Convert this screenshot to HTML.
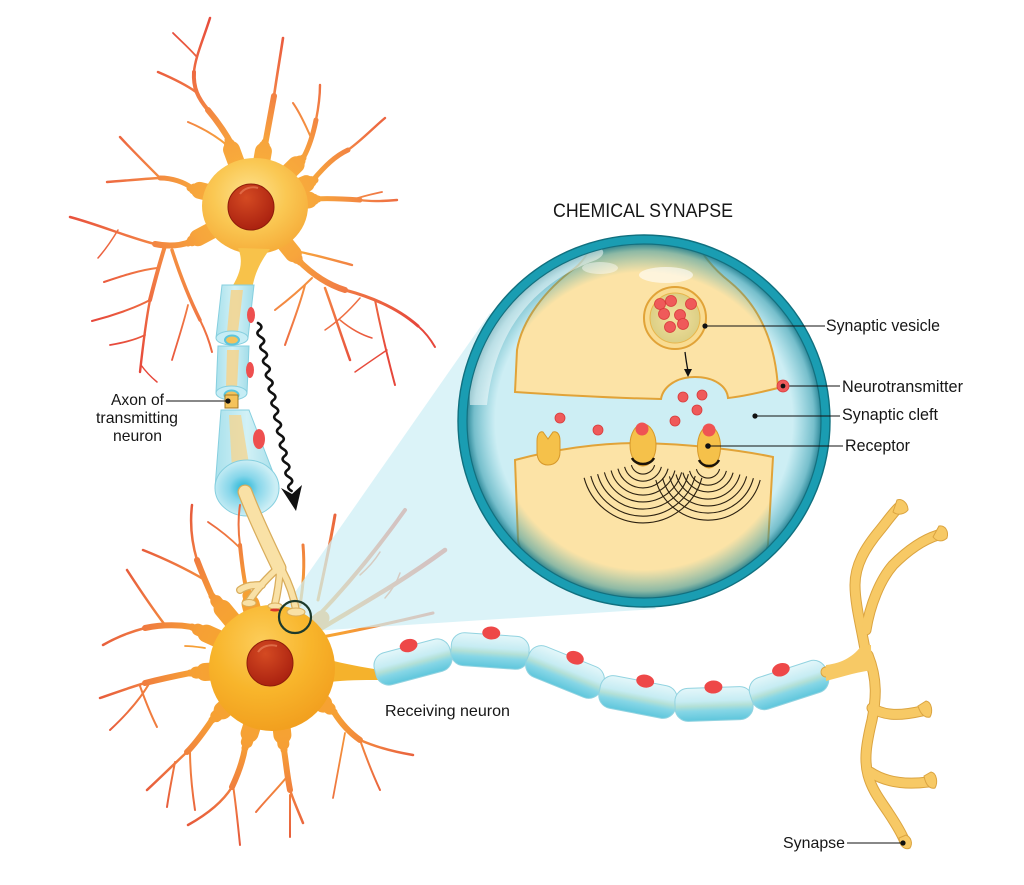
<!DOCTYPE html>
<html><head><meta charset="utf-8">
<style>
html,body{margin:0;padding:0;background:#fff;}
svg{display:block;}
text{font-family:"Liberation Sans",Arial,sans-serif;fill:#161616;}
</style></head><body>
<svg width="1024" height="885" viewBox="0 0 1024 885" xmlns="http://www.w3.org/2000/svg">
<defs>
 <radialGradient id="gTop" gradientUnits="userSpaceOnUse" cx="255" cy="206" r="200">
   <stop offset="0" stop-color="#f9bb3c"/>
   <stop offset="0.32" stop-color="#f7a53c"/>
   <stop offset="0.6" stop-color="#f17c44"/>
   <stop offset="1" stop-color="#e6473b"/>
 </radialGradient>
 <radialGradient id="gBot" gradientUnits="userSpaceOnUse" cx="272" cy="667" r="190">
   <stop offset="0" stop-color="#f7ad28"/>
   <stop offset="0.42" stop-color="#f6a035"/>
   <stop offset="0.72" stop-color="#ef7840"/>
   <stop offset="1" stop-color="#e4523a"/>
 </radialGradient>
 <radialGradient id="bodyTop" cx="0.45" cy="0.38" r="0.62">
   <stop offset="0" stop-color="#fde28e"/>
   <stop offset="0.55" stop-color="#fac853"/>
   <stop offset="1" stop-color="#f6ae3b"/>
 </radialGradient>
 <radialGradient id="bodyBot" cx="0.42" cy="0.3" r="0.7">
   <stop offset="0" stop-color="#fccd5a"/>
   <stop offset="0.55" stop-color="#f8b52b"/>
   <stop offset="1" stop-color="#f2a01f"/>
 </radialGradient>
 <radialGradient id="nuc" cx="0.4" cy="0.3" r="0.75">
   <stop offset="0" stop-color="#d44a22"/>
   <stop offset="1" stop-color="#a81f0f"/>
 </radialGradient>
 <clipPath id="inner"><circle cx="644" cy="421" r="177"/></clipPath>
 <radialGradient id="innerShade" gradientUnits="userSpaceOnUse" cx="644" cy="421" r="177">
   <stop offset="0.84" stop-color="#2a9fb3" stop-opacity="0"/>
   <stop offset="0.96" stop-color="#1f8fa3" stop-opacity="0.5"/>
   <stop offset="1" stop-color="#15788a" stop-opacity="0.85"/>
 </radialGradient>
 <linearGradient id="myel" x1="0" y1="0" x2="0" y2="1">
   <stop offset="0" stop-color="#e4f7fa"/>
   <stop offset="0.4" stop-color="#c6ecf3"/>
   <stop offset="0.55" stop-color="#b3e0d6"/>
   <stop offset="0.7" stop-color="#86d6e6"/>
   <stop offset="1" stop-color="#5ec6dc"/>
 </linearGradient>
 <linearGradient id="myelV" x1="0" y1="0" x2="1" y2="0">
   <stop offset="0" stop-color="#a9e1ec"/>
   <stop offset="0.5" stop-color="#d2f1f6"/>
   <stop offset="1" stop-color="#a3dde9"/>
 </linearGradient>
 <radialGradient id="glow" cx="0.45" cy="0.5" r="0.5">
   <stop offset="0" stop-color="#1db4d6"/>
   <stop offset="0.45" stop-color="#86d6ea"/>
   <stop offset="1" stop-color="#cbeef5"/>
 </radialGradient>
 <radialGradient id="ves" cx="0.5" cy="0.5" r="0.5">
   <stop offset="0" stop-color="#f3e2a0"/>
   <stop offset="1" stop-color="#dccf85"/>
 </radialGradient>
</defs>

<!-- ============ TOP NEURON DENDRITES ============ -->
<g fill="none" stroke="url(#gTop)" stroke-linecap="round" stroke-linejoin="round">
  <!-- tapered roots -->
  <g stroke-width="17" pathLength="100">
    <path pathLength="100" stroke-dasharray="84 300" d="M250,200 L228,140"/>
    <path pathLength="100" stroke-dasharray="84 300" d="M255,200 L265,142"/>
    <path pathLength="100" stroke-dasharray="84 300" d="M260,200 L303,158"/>
    <path pathLength="100" stroke-dasharray="84 300" d="M260,203 L315,180"/>
    <path pathLength="100" stroke-dasharray="84 300" d="M260,205 L318,199"/>
    <path pathLength="100" stroke-dasharray="84 300" d="M250,203 L190,188"/>
    <path pathLength="100" stroke-dasharray="84 300" d="M250,210 L188,243"/>
    <path pathLength="100" stroke-dasharray="84 300" d="M258,210 L300,262"/>
  </g>
  <g stroke-width="11">
    <path pathLength="100" stroke-dasharray="93 300" d="M250,200 L228,140"/>
    <path pathLength="100" stroke-dasharray="93 300" d="M255,200 L265,142"/>
    <path pathLength="100" stroke-dasharray="93 300" d="M260,200 L303,158"/>
    <path pathLength="100" stroke-dasharray="93 300" d="M260,203 L315,180"/>
    <path pathLength="100" stroke-dasharray="93 300" d="M260,205 L318,199"/>
    <path pathLength="100" stroke-dasharray="93 300" d="M250,203 L190,188"/>
    <path pathLength="100" stroke-dasharray="93 300" d="M250,210 L188,243"/>
    <path pathLength="100" stroke-dasharray="93 300" d="M258,210 L300,262"/>
  </g>
  <g stroke-width="7">
    <path d="M250,200 L228,140"/>
    <path d="M255,200 L265,142"/>
    <path d="M260,200 L303,158"/>
    <path d="M260,203 L315,180"/>
    <path d="M260,205 L318,199"/>
    <path d="M250,203 L190,188"/>
    <path d="M250,210 L188,243"/>
    <path d="M258,210 L300,262"/>
  </g>
  <!-- upper left -->
  <path stroke-width="6" d="M232,145 C225,132 218,122 208,110"/>
  <path stroke-width="4" d="M208,110 C198,98 193,88 194,72"/>
  <path stroke-width="2.5" d="M194,72 C195,58 203,40 210,18"/>
  <path stroke-width="2.5" d="M196,92 C185,84 172,78 158,72"/>
  <path stroke-width="1.8" d="M196,56 C188,47 180,40 173,33"/>
  <path stroke-width="2" d="M228,146 C215,135 200,127 188,122"/>
  <!-- upper middle -->
  <path stroke-width="6" d="M265,145 C268,128 271,112 274,96"/>
  <path stroke-width="2.6" d="M274,96 C277,75 280,58 283,38"/>
  <!-- upper right -->
  <path stroke-width="5" d="M302,160 C308,150 313,135 316,120"/>
  <path stroke-width="2.4" d="M316,120 C319,105 320,95 320,85"/>
  <path stroke-width="2" d="M312,140 C306,126 300,113 293,103"/>
  <!-- right -->
  <path stroke-width="5" d="M313,180 C325,166 335,156 348,150"/>
  <path stroke-width="2.4" d="M348,150 C362,140 373,128 385,118"/>
  <!-- right 2 -->
  <path stroke-width="5" d="M316,199 C330,198 345,199 360,200"/>
  <path stroke-width="2.4" d="M360,200 C373,202 386,201 397,200"/>
  <path stroke-width="1.8" d="M352,200 C363,196 373,194 382,192"/>
  <!-- left -->
  <path stroke-width="5" d="M192,188 C184,182 172,178 160,178"/>
  <path stroke-width="2.4" d="M160,178 C140,179 122,181 107,182"/>
  <path stroke-width="2.4" d="M160,178 C146,164 132,150 120,137"/>
  <!-- lower left -->
  <path stroke-width="6" d="M190,242 C182,245 170,247 155,244"/>
  <path stroke-width="2.5" d="M155,244 C130,238 100,225 70,217"/>
  <path stroke-width="4" d="M165,246 C160,262 155,280 150,300"/>
  <path stroke-width="2.4" d="M150,300 C146,320 143,345 140,372"/>
  <path stroke-width="2" d="M157,268 C140,270 122,276 104,282"/>
  <path stroke-width="2" d="M150,300 C135,308 112,316 92,321"/>
  <path stroke-width="1.8" d="M145,335 C135,340 122,343 110,345"/>
  <path stroke-width="3.5" d="M172,250 C180,275 190,300 200,320"/>
  <path stroke-width="2" d="M200,320 C205,330 209,340 212,352"/>
  <path stroke-width="1.8" d="M188,305 C184,322 178,340 172,360"/>
  <path stroke-width="1.5" d="M141,365 C146,372 151,377 157,382"/>
  <path stroke-width="1.5" d="M118,230 C112,240 105,250 98,258"/>
  <!-- lower right -->
  <path stroke-width="6" d="M298,260 C310,272 325,284 345,290"/>
  <path stroke-width="3" d="M345,290 C375,298 400,310 418,326"/>
  <path stroke-width="2" d="M418,326 C426,333 431,340 435,347"/>
  <path stroke-width="2.4" d="M300,252 C316,255 333,260 352,265"/>
  <path stroke-width="2" d="M312,278 C300,290 288,300 275,310"/>
  <path stroke-width="2" d="M305,285 C300,305 292,325 285,345"/>
  <path stroke-width="2.5" d="M325,288 C333,310 341,335 350,360"/>
  <path stroke-width="2" d="M375,300 C380,325 387,355 395,385"/>
  <path stroke-width="1.5" d="M360,298 C348,312 337,322 325,330"/>
  <path stroke-width="1.5" d="M387,350 C375,358 365,365 355,372"/>
  <path stroke-width="1.5" d="M340,320 C352,330 362,335 372,338"/>
</g>
<!-- top body -->
<ellipse cx="255" cy="206" rx="53" ry="48" fill="url(#bodyTop)"/>
<circle cx="251" cy="207" r="23" fill="url(#nuc)" stroke="#8e1c0a" stroke-width="1"/>
<path d="M240,194 C244,188 252,186 258,188" fill="none" stroke="#e87a55" stroke-width="2" opacity="0.7"/>
<!-- hillock -->
<path d="M238,248 C244,262 240,275 230,290 L252,290 C254,275 260,262 270,249 Z" fill="#f8c24a"/>

<!-- ============ TOP AXON MYELIN ============ -->
<g stroke="#86cfdf" stroke-width="1">
  <path d="M222,285 L254,285 L248,338 L216,338 Z" fill="url(#myelV)"/>
  <path d="M231,290 L243,290 L238,332 L227,332 Z" fill="#f5d48c" stroke="none" opacity="0.85"/>
  <ellipse cx="232" cy="338" rx="16" ry="7" fill="#c6edf5"/>
  <ellipse cx="232" cy="340" rx="7" ry="4.5" fill="#f2c35c" stroke="#5cc6dc" stroke-width="2"/>
  <path d="M218,346 L249,346 L247,393 L216,393 Z" fill="url(#myelV)"/>
  <path d="M227,350 L239,350 L237,388 L226,388 Z" fill="#f5d48c" stroke="none" opacity="0.85"/>
  <ellipse cx="231.5" cy="393" rx="15.5" ry="7" fill="#c6edf5"/>
  <ellipse cx="231.5" cy="395" rx="7" ry="4.5" fill="#f2c35c" stroke="#5cc6dc" stroke-width="2"/>
  <rect x="225" y="395" width="13" height="13" fill="#f5c35a" stroke="#a47a24"/>
  <path d="M221,410 L249,410 L279,488 L215,488 Z" fill="url(#myelV)"/>
  <path d="M229,415 L241,415 L250,470 L232,470 Z" fill="#f5d48c" stroke="none" opacity="0.75"/>
  <ellipse cx="247" cy="488" rx="32" ry="28" fill="url(#glow)"/>
</g>
<ellipse cx="251" cy="315" rx="4" ry="8" fill="#ee4f4f"/>
<ellipse cx="250" cy="370" rx="4" ry="8" fill="#ee4f4f"/>
<ellipse cx="259" cy="439" rx="6" ry="10" fill="#ee4f4f"/>

<!-- ============ BOTTOM NEURON DENDRITES ============ -->
<g fill="none" stroke="url(#gBot)" stroke-linecap="round" stroke-linejoin="round">
  <g stroke-width="18">
    <path pathLength="100" stroke-dasharray="80 300" d="M265,660 L212,596"/>
    <path pathLength="100" stroke-dasharray="80 300" d="M265,660 L192,627"/>
    <path pathLength="100" stroke-dasharray="80 300" d="M265,668 L190,673"/>
    <path pathLength="100" stroke-dasharray="80 300" d="M265,672 L212,720"/>
    <path pathLength="100" stroke-dasharray="80 300" d="M268,675 L245,748"/>
    <path pathLength="100" stroke-dasharray="80 300" d="M276,675 L284,750"/>
    <path pathLength="100" stroke-dasharray="80 300" d="M280,670 L334,712"/>
    <path pathLength="100" stroke-dasharray="80 300" d="M265,660 L247,590"/>
  </g>
  <g stroke-width="12">
    <path pathLength="100" stroke-dasharray="92 300" d="M265,660 L212,596"/>
    <path pathLength="100" stroke-dasharray="92 300" d="M265,660 L192,627"/>
    <path pathLength="100" stroke-dasharray="92 300" d="M265,668 L190,673"/>
    <path pathLength="100" stroke-dasharray="92 300" d="M265,672 L212,720"/>
    <path pathLength="100" stroke-dasharray="92 300" d="M268,675 L245,748"/>
    <path pathLength="100" stroke-dasharray="92 300" d="M276,675 L284,750"/>
    <path pathLength="100" stroke-dasharray="92 300" d="M280,670 L334,712"/>
    <path pathLength="100" stroke-dasharray="92 300" d="M265,660 L247,590"/>
  </g>
  <g stroke-width="7">
    <path d="M265,660 L212,596"/>
    <path d="M265,660 L192,627"/>
    <path d="M265,668 L190,673"/>
    <path d="M265,672 L212,720"/>
    <path d="M268,675 L245,748"/>
    <path d="M276,675 L284,750"/>
    <path d="M280,670 L334,712"/>
    <path d="M265,660 L247,590"/>
  </g>
  <path stroke-width="6" d="M212,596 C207,585 202,573 197,560"/>
  <path stroke-width="2.5" d="M197,560 C191,540 190,522 192,505"/>
  <path stroke-width="2.5" d="M205,580 C188,570 168,560 143,550"/>
  <path stroke-width="6" d="M192,627 C180,625 165,624 145,628"/>
  <path stroke-width="2.5" d="M145,628 C130,632 115,638 103,645"/>
  <path stroke-width="2.5" d="M165,625 C152,608 140,590 127,570"/>
  <path stroke-width="1.8" d="M205,648 C198,647 192,646 185,646"/>
  <path stroke-width="6" d="M190,673 C180,675 165,678 145,683"/>
  <path stroke-width="2.5" d="M145,683 C128,688 112,694 100,698"/>
  <path stroke-width="2" d="M150,682 C140,700 125,716 110,730"/>
  <path stroke-width="2" d="M140,686 C145,700 150,713 157,727"/>
  <path stroke-width="6" d="M212,720 C205,730 197,742 187,752"/>
  <path stroke-width="2.5" d="M187,752 C173,765 160,778 147,790"/>
  <path stroke-width="2" d="M190,750 C190,770 192,790 195,810"/>
  <path stroke-width="2" d="M175,762 C172,778 169,793 167,807"/>
  <path stroke-width="6" d="M245,748 C243,760 239,772 232,787"/>
  <path stroke-width="2.5" d="M232,787 C222,803 206,815 188,825"/>
  <path stroke-width="2" d="M233,785 C236,805 238,825 240,845"/>
  <path stroke-width="6" d="M284,750 C286,762 287,775 290,790"/>
  <path stroke-width="2.5" d="M290,790 C294,802 299,813 303,823"/>
  <path stroke-width="2" d="M286,778 C276,790 266,800 256,812"/>
  <path stroke-width="2" d="M290,795 C290,810 290,825 290,837"/>
  <path stroke-width="6" d="M334,712 C342,725 350,733 360,740"/>
  <path stroke-width="2.5" d="M360,740 C378,748 395,752 413,755"/>
  <path stroke-width="2" d="M360,740 C366,757 373,775 380,790"/>
  <path stroke-width="1.8" d="M345,733 C341,755 337,777 333,798"/>
  <path stroke-width="4" d="M247,592 C244,580 242,565 240,545"/>
  <path stroke-width="2" d="M240,545 C238,530 238,518 240,505"/>
  <path stroke-width="1.8" d="M240,548 C230,538 220,530 208,522"/>
  <!-- up-right (faded by cone) -->
  <g stroke-width="15"><path d="M270,660 L322,618"/></g>
  <path stroke-width="3" d="M300,605 C303,588 305,568 303,545"/>
  <path stroke-width="3" d="M318,600 C324,572 330,545 335,515"/>
  <path stroke-width="4" d="M316,618 C345,588 375,552 405,510"/>
  <path stroke-width="4.5" d="M322,628 C360,605 400,583 445,550"/>
  <path stroke-width="3" d="M322,637 C360,630 395,622 433,613"/>
  <path stroke-width="1.5" d="M385,598 C392,590 397,582 400,573"/>
  <path stroke-width="1.5" d="M360,575 C368,568 375,560 380,552"/>
</g>

<!-- ============ CONE ============ -->
<polygon points="284,608 490,313 656,609 297,632" fill="#cdeef5" opacity="0.72"/>

<!-- bottom body -->
<path d="M330,660 C345,664 362,667 380,670 L380,680 C362,680 345,680 330,682 Z" fill="#f5b22c"/>
<circle cx="272" cy="668" r="63" fill="url(#bodyBot)"/>
<circle cx="270" cy="663" r="23" fill="url(#nuc)" stroke="#8e1c0a" stroke-width="1"/>
<path d="M258,652 C262,646 270,644 277,646" fill="none" stroke="#e8805a" stroke-width="2" opacity="0.7"/>

<!-- top axon (cream) into bottom neuron -->
<g fill="none" stroke-linecap="round" stroke-linejoin="round">
  <g stroke="#d9ad5c" stroke-width="15">
    <path d="M245,492 C255,518 268,545 279,568"/>
  </g>
  <g stroke="#d9ad5c" stroke-width="8">
    <path d="M278,568 C265,580 256,590 249,601"/>
    <path d="M280,570 C279,585 277,595 275,604"/>
    <path d="M282,570 C290,585 294,598 296,610"/>
    <path d="M262,585 C255,585 247,585 240,590"/>
  </g>
  <g stroke="#f9e1a6" stroke-width="12.5">
    <path d="M245,492 C255,518 268,545 279,568"/>
  </g>
  <g stroke="#f9e1a6" stroke-width="5.5">
    <path d="M278,568 C265,580 256,590 249,601"/>
    <path d="M280,570 C279,585 277,595 275,604"/>
    <path d="M282,570 C290,585 294,598 296,610"/>
    <path d="M262,585 C255,585 247,585 240,590"/>
  </g>
</g>
<ellipse cx="249" cy="603" rx="7" ry="3.5" fill="#f9e1a6" stroke="#d9ad5c"/>
<ellipse cx="275" cy="606" rx="7" ry="3" fill="#f9e1a6" stroke="#d9ad5c"/>
<ellipse cx="296" cy="612" rx="9" ry="4" fill="#f9e1a6" stroke="#d9ad5c"/>
<ellipse cx="275" cy="610" rx="5" ry="1.5" fill="#d9352a"/>
<circle cx="295" cy="617" r="16" fill="none" stroke="#1d3a2c" stroke-width="2.2"/>

<!-- ============ BOTTOM MYELIN ============ -->
<g>
  <g transform="translate(413,662) rotate(-15)">
    <rect x="-39" y="-16.5" width="78" height="33" rx="13" fill="url(#myel)" stroke="#92d3e0"/>
    <ellipse cx="0" cy="-17" rx="9" ry="6.5" fill="#ee4848"/>
  </g>
  <g transform="translate(490,651) rotate(4)">
    <rect x="-39" y="-16.5" width="78" height="33" rx="13" fill="url(#myel)" stroke="#92d3e0"/>
    <ellipse cx="0" cy="-18" rx="9" ry="6.5" fill="#ee4848"/>
  </g>
  <g transform="translate(565,672) rotate(22)">
    <rect x="-40" y="-16.5" width="80" height="33" rx="13" fill="url(#myel)" stroke="#92d3e0"/>
    <ellipse cx="4" cy="-17" rx="9" ry="6.5" fill="#ee4848"/>
  </g>
  <g transform="translate(638,697) rotate(11)">
    <rect x="-39" y="-16.5" width="78" height="33" rx="13" fill="url(#myel)" stroke="#92d3e0"/>
    <ellipse cx="4" cy="-17" rx="9" ry="6.5" fill="#ee4848"/>
  </g>
  <g transform="translate(714,704) rotate(-2)">
    <rect x="-39" y="-16.5" width="78" height="33" rx="13" fill="url(#myel)" stroke="#92d3e0"/>
    <ellipse cx="0" cy="-17" rx="9" ry="6.5" fill="#ee4848"/>
  </g>
  <g transform="translate(789,685) rotate(-18)">
    <rect x="-40" y="-16.5" width="80" height="33" rx="13" fill="url(#myel)" stroke="#92d3e0"/>
    <ellipse cx="-3" cy="-17" rx="9" ry="6.5" fill="#ee4848"/>
  </g>
</g>

<!-- ============ AXON TERMINAL ============ -->
<g fill="none" stroke-linecap="round" stroke-linejoin="round">
  <g stroke="#dba440" stroke-width="11">
    <path d="M826,672 C842,668 855,664 866,656"/>
    <path d="M866,655 C862,630 855,605 855,585 C855,565 865,548 880,530 C888,520 893,513 898,508"/>
    <path d="M866,630 C870,605 880,580 893,565 C908,550 922,540 938,535"/>
    <path d="M868,655 C878,680 876,700 872,720 C866,745 864,760 868,775 C872,790 880,800 888,812 C896,824 902,834 905,842"/>
    <path d="M872,708 C885,716 900,716 922,711"/>
    <path d="M870,772 C885,782 905,785 928,782"/>
  </g>
  <g stroke="#f7c965" stroke-width="9">
    <path d="M826,672 C842,668 855,664 866,656"/>
    <path d="M866,655 C862,630 855,605 855,585 C855,565 865,548 880,530 C888,520 893,513 898,508"/>
    <path d="M866,630 C870,605 880,580 893,565 C908,550 922,540 938,535"/>
    <path d="M868,655 C878,680 876,700 872,720 C866,745 864,760 868,775 C872,790 880,800 888,812 C896,824 902,834 905,842"/>
    <path d="M872,708 C885,716 900,716 922,711"/>
    <path d="M870,772 C885,782 905,785 928,782"/>
  </g>
</g>
<path d="M826,665 C843,663 854,656 862,645 L871,645 C871,655 872,664 875,670 C860,671 845,676 826,681 Z" fill="#f7c965"/>
<g fill="#f7c965" stroke="#dba440" stroke-width="1">
  <path d="M893,512 L897,500 C902,498 908,503 908,510 C905,514 898,516 893,512 Z"/>
  <path d="M933,537 L939,526 C945,525 949,531 947,538 C943,542 937,542 933,537 Z"/>
  <path d="M918,706 L926,701 C932,702 933,712 930,717 C926,718 921,716 918,706 Z"/>
  <path d="M924,776 L931,772 C937,773 938,783 935,788 C931,789 926,787 924,776 Z"/>
  <path d="M899,838 L906,835 C911,837 913,843 910,848 C906,850 900,848 899,838 Z"/>
</g>

<!-- ============ BIG CIRCLE ============ -->
<circle cx="644" cy="421" r="180" fill="#cdeef4"/>
<g clip-path="url(#inner)">
  <path d="M515,392 L517,350 C522,320 545,290 575,268 C585,260 590,250 593,238 L695,238 C700,252 712,268 730,282 C758,305 775,340 778,388 C762,392 745,396 728,398 C727,386 714,377 695,377 C676,377 663,387 661,399 C610,398 560,395 515,392 Z" fill="#fce3a6" stroke="#e1a338" stroke-width="2"/>
  <path d="M515,460 C560,448 600,443 640,443 C690,444 740,450 773,457 L768,545 C762,565 745,575 725,583 C710,590 700,598 695,612 L593,612 C588,598 575,588 560,580 C535,568 520,555 518,540 Z" fill="#fce3a6" stroke="#e1a338" stroke-width="2"/>
  <!-- vesicle -->
  <circle cx="675" cy="318" r="31" fill="#f9dc92" stroke="#e1a338" stroke-width="2"/>
  <circle cx="675" cy="318" r="25" fill="url(#ves)" stroke="#e8b54a" stroke-width="1"/>
  <g fill="#ef5a5a" stroke="#d83b3b" stroke-width="0.8">
    <circle cx="660" cy="304" r="5.5"/>
    <circle cx="671" cy="301" r="5.5"/>
    <circle cx="691" cy="304" r="5.5"/>
    <circle cx="664" cy="314" r="5.5"/>
    <circle cx="680" cy="315" r="5.5"/>
    <circle cx="670" cy="327" r="5.5"/>
    <circle cx="683" cy="324" r="5.5"/>
  </g>
  <!-- small arrow -->
  <path d="M685,352 C686,360 687,366 688,371" fill="none" stroke="#111" stroke-width="1.3"/>
  <polygon points="684,369 692,369 688,377" fill="#111"/>
  <!-- neurotransmitters -->
  <g fill="#ef5a5a" stroke="#d83b3b" stroke-width="0.8">
    <circle cx="683" cy="397" r="5"/>
    <circle cx="702" cy="395" r="5"/>
    <circle cx="697" cy="410" r="5"/>
    <circle cx="560" cy="418" r="5"/>
    <circle cx="598" cy="430" r="5"/>
    <circle cx="675" cy="421" r="5"/>
  </g>
  <!-- arcs -->
  <g fill="none" stroke="#2b2010" stroke-width="1.1">
    <path d="M631.4,465.1 A12,12 0 0 0 654.6,465.1"/>
    <path d="M624.6,466.9 A19,19 0 0 0 661.4,466.9"/>
    <path d="M617.9,468.7 A26,26 0 0 0 668.1,468.7"/>
    <path d="M611.1,470.5 A33,33 0 0 0 674.9,470.5"/>
    <path d="M604.4,472.4 A40,40 0 0 0 681.6,472.4"/>
    <path d="M597.6,474.2 A47,47 0 0 0 688.4,474.2"/>
    <path d="M590.8,476.0 A54,54 0 0 0 695.2,476.0"/>
    <path d="M584.1,477.8 A61,61 0 0 0 701.9,477.8"/>
    <path d="M696.4,469.1 A12,12 0 0 0 719.6,469.1"/>
    <path d="M689.6,470.9 A19,19 0 0 0 726.4,470.9"/>
    <path d="M682.9,472.7 A26,26 0 0 0 733.1,472.7"/>
    <path d="M676.1,474.5 A33,33 0 0 0 739.9,474.5"/>
    <path d="M669.4,476.4 A40,40 0 0 0 746.6,476.4"/>
    <path d="M662.6,478.2 A47,47 0 0 0 753.4,478.2"/>
    <path d="M655.8,480.0 A54,54 0 0 0 760.2,480.0"/>
  </g>
  <!-- receptors -->
  <path d="M537,441 C537,434 540,431 543,432 L548,439 L553,432 C557,431 560,434 560,441 L560,452 C560,460 555,465 548,465 C541,465 537,460 537,452 Z" fill="#f5c14a" stroke="#d6982a" stroke-width="1"/>
  <ellipse cx="643" cy="445" rx="13" ry="21" fill="#f5c14a" stroke="#d6982a" stroke-width="1"/>
  <path d="M632,458 C636,466 650,466 654,458" fill="none" stroke="#1a1208" stroke-width="2.5"/>
  <circle cx="642" cy="429" r="6.5" fill="#ef5353"/>
  <ellipse cx="709" cy="447" rx="11.5" ry="21" fill="#f5c14a" stroke="#d6982a" stroke-width="1"/>
  <path d="M699,460 C703,468 715,468 719,460" fill="none" stroke="#1a1208" stroke-width="2.5"/>
  <circle cx="709" cy="430" r="6.5" fill="#ef5353"/>
  <!-- shading + gloss -->
  <circle cx="644" cy="421" r="177" fill="url(#innerShade)"/>
  <path d="M470,405 C466,330 515,268 592,248 C604,246 608,254 596,260 C535,282 495,330 487,405 Z" fill="#ffffff" opacity="0.5"/>
  <ellipse cx="666" cy="275" rx="27" ry="8" fill="#ffffff" opacity="0.6"/>
  <ellipse cx="600" cy="268" rx="18" ry="6" fill="#ffffff" opacity="0.45"/>
</g>
<circle cx="644" cy="421" r="181.5" fill="none" stroke="#1a9db2" stroke-width="9"/>
<circle cx="644" cy="421" r="186" fill="none" stroke="#10707f" stroke-width="1.4"/>
<circle cx="644" cy="421" r="177" fill="none" stroke="#13707f" stroke-width="1.2"/>

<!-- ============ LABELS ============ -->
<text x="553" y="217" font-size="19" textLength="180" lengthAdjust="spacingAndGlyphs">CHEMICAL SYNAPSE</text>

<g stroke="#111" stroke-width="1.1" fill="none">
  <line x1="705" y1="326" x2="825" y2="326"/>
  <line x1="783" y1="386" x2="840" y2="386"/>
  <line x1="755" y1="416" x2="840" y2="416"/>
  <line x1="708" y1="446" x2="843" y2="446"/>
  <line x1="166" y1="401" x2="228" y2="401"/>
  <line x1="847" y1="843" x2="903" y2="843"/>
</g>
<circle cx="783" cy="386" r="6" fill="#ef5a5a" stroke="#d83b3b" stroke-width="0.8"/>
<g fill="#111">
  <circle cx="705" cy="326" r="2.6"/>
  <circle cx="783" cy="386" r="2.4"/>
  <circle cx="755" cy="416" r="2.6"/>
  <circle cx="708" cy="446" r="2.8"/>
  <circle cx="228" cy="401" r="2.6"/>
  <circle cx="903" cy="843" r="2.6"/>
</g>

<text x="826" y="331" font-size="16.5" textLength="114" lengthAdjust="spacingAndGlyphs">Synaptic vesicle</text>
<text x="842" y="392" font-size="16.5" textLength="121" lengthAdjust="spacingAndGlyphs">Neurotransmitter</text>
<text x="842" y="420" font-size="16.5" textLength="96" lengthAdjust="spacingAndGlyphs">Synaptic cleft</text>
<text x="845" y="451" font-size="16.5" textLength="65" lengthAdjust="spacingAndGlyphs">Receptor</text>

<text x="111" y="405" font-size="16" textLength="53" lengthAdjust="spacingAndGlyphs">Axon of</text>
<text x="96" y="423" font-size="16" textLength="82" lengthAdjust="spacingAndGlyphs">transmitting</text>
<text x="113" y="441" font-size="16" textLength="49" lengthAdjust="spacingAndGlyphs">neuron</text>

<text x="385" y="716" font-size="16" textLength="125" lengthAdjust="spacingAndGlyphs">Receiving neuron</text>
<text x="783" y="848" font-size="16" textLength="62" lengthAdjust="spacingAndGlyphs">Synapse</text>

<!-- wavy arrow -->
<path d="M258,323 q6,3.5 1.4,7 t1.4,7 t1.4,7 t1.4,7 t1.4,7 t1.4,7 t1.4,7 t1.4,7 t1.4,7 t1.4,7 t1.4,7 t1.4,7 t1.4,7 t1.4,7 t1.4,7 t1.4,7 t1.4,7 t1.4,7 t1.4,7 t1.4,7 t1.4,7 t1.4,7 t1.4,7 t1.4,7" fill="none" stroke="#111" stroke-width="2.6" stroke-linecap="round"/>
<polygon points="281,488 292,494 302,485 296,511" fill="#111"/>
</svg>
</body></html>
